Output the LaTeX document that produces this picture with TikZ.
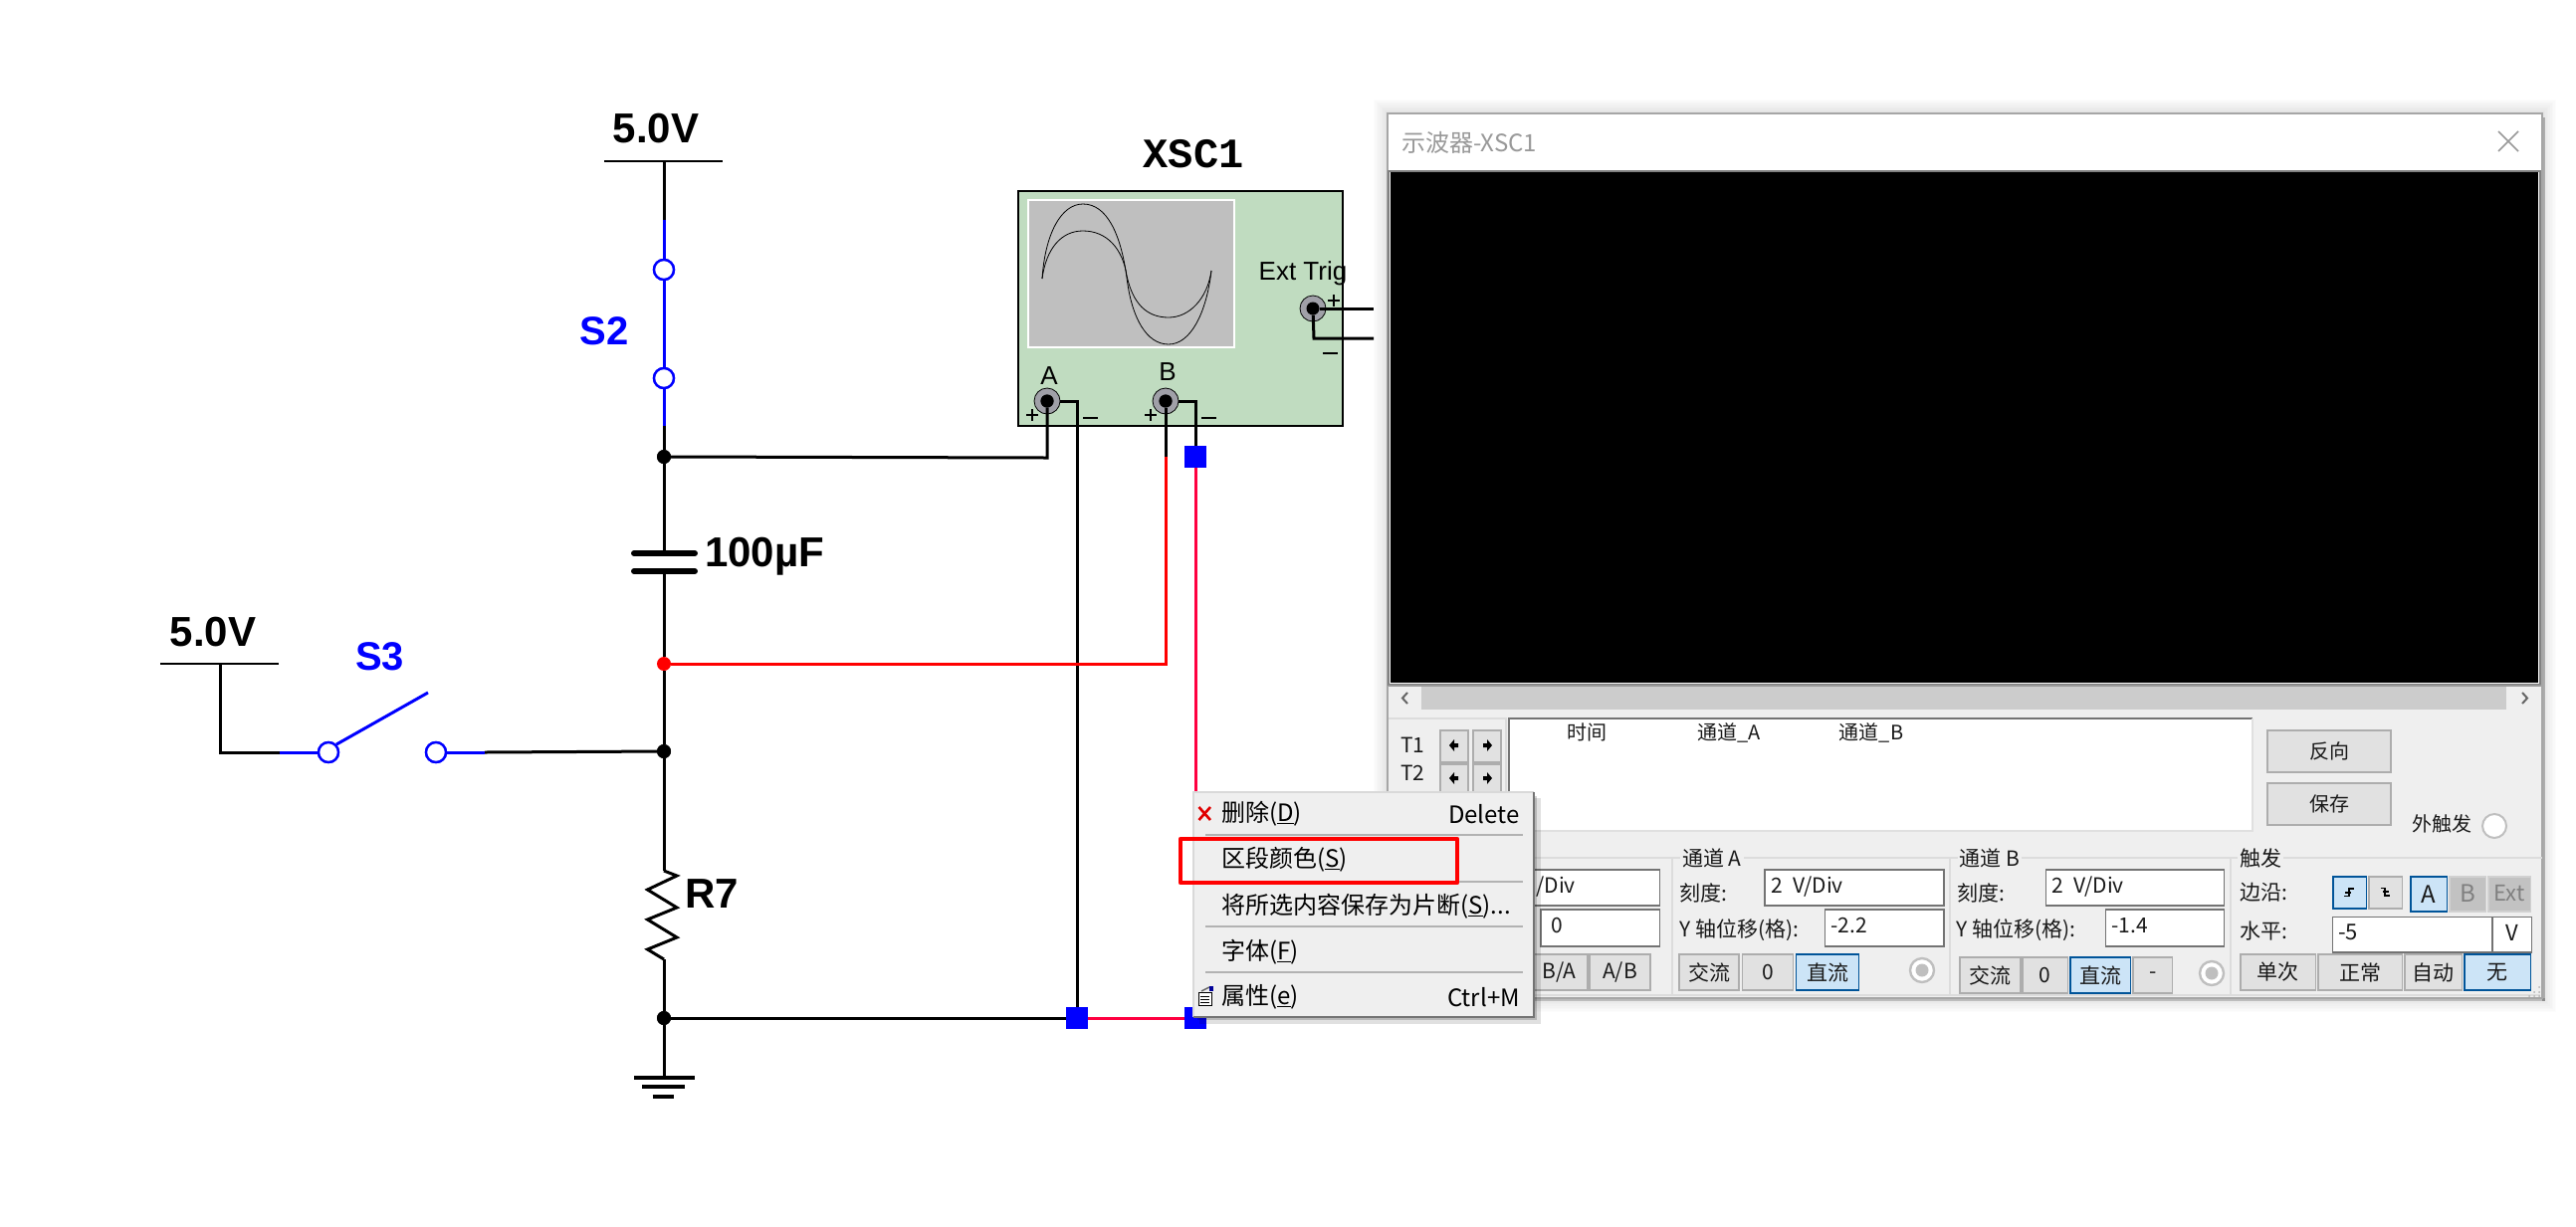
\documentclass[tikz,border=0pt]{standalone}
\usepackage{fontspec}
\setmainfont{Liberation Sans}
\newfontfamily\cjk{Noto Sans CJK SC}
\newfontfamily\cour{Liberation Mono}
\newcommand\fs[1]{\fontsize{#1}{#1}\selectfont}
\definecolor{panelc}{HTML}{EFEFEF}
\definecolor{btnc}{HTML}{E1E1E1}
\definecolor{btnl}{HTML}{ADADAD}
\definecolor{selc}{HTML}{CCE4F7}
\definecolor{sell}{HTML}{005499}
\definecolor{framec}{HTML}{DCDCDC}
\definecolor{segred}{HTML}{FF0040}
\definecolor{scopeg}{HTML}{C0DCC0}
\definecolor{pinc}{HTML}{A0A0A8}
\tikzset{
 wire/.style={line width=3pt,black},
 bluewire/.style={line width=3pt,blue},
 redwire/.style={line width=3pt,red},
 segwire/.style={line width=3pt,segred},
 railline/.style={line width=1.4pt,black},
 contact/.style={circle,draw=blue,fill=white,line width=2.4pt,minimum size=20pt,inner sep=0pt},
 dotb/.style={circle,fill=black,minimum size=14pt,inner sep=0pt},
 dotr/.style={circle,fill=red,minimum size=14pt,inner sep=0pt},
 pinout/.style={circle,draw=black,line width=.8pt,fill=pinc,minimum size=26pt,inner sep=0pt},
 pinin/.style={circle,fill=black,minimum size=13pt,inner sep=0pt},
 handle/.style={rectangle,fill=blue,minimum size=22pt,inner sep=0pt},
 ckt/.style={font=\bfseries\fs{42},inner sep=0pt},
 swlab/.style={font=\bfseries\fs{40},text=blue,inner sep=0pt},
 pinlab/.style={font=\fs{26},inner sep=0pt},
 ui/.style={font=\cjk\fs{21},inner sep=0pt,text=black!90},
 uil/.style={ui,anchor=west},
 menut/.style={font=\cjk\fs{24},inner sep=0pt,anchor=west,text=black},
 menur/.style={font=\cjk\fs{24},inner sep=0pt,anchor=east,text=black},
 btnf/.style={fill=btnc,draw=btnl,line width=1.4pt},
 selb/.style={fill=selc,draw=sell,line width=1.4pt},
 disb/.style={fill=black!24,draw=black!18,line width=1.4pt},
 ebox/.style={fill=white,draw=black!55,line width=1.4pt},
 grp/.style={draw=framec,line width=1.4pt},
 sep/.style={draw=black!30,line width=1.2pt},
 grplab/.style={ui,fill=panelc,inner sep=2pt},
}
\newcommand\btn[7]{\path[#6] (#2,#3) rectangle (#4,#5); \node[ui] (#1) at ({(#2+#4)/2},{(#3+#5)/2}) {#7};}
\newcommand\arrL[2]{\fill[black,shift={(#1,#2)}] (-5,0)--(0,-6)--(0,-2)--(4,-2)--(4,2)--(0,2)--(0,6)--cycle;}
\newcommand\arrR[2]{\fill[black,shift={(#1,#2)}] (5,0)--(0,-6)--(0,-2)--(-4,-2)--(-4,2)--(0,2)--(0,6)--cycle;}
\begin{document}
\begin{tikzpicture}[x=1pt,y=-1pt]
\fill[white] (0,0) rectangle (2588,1232);
\useasboundingbox (0,0) rectangle (2588,1232);

% ---- scope window
\foreach \i in {1,...,9}{\fill[black,opacity=.012] (1394-\i*1.6,114-\i*1.6) rectangle (2554+\i*1.6,1003+\i*1.6);}
\fill[black,opacity=.25] (2554,118) rectangle (2557,1006);
\fill[black,opacity=.18] (1398,1003) rectangle (2557,1006);
\path[fill=panelc,draw=black!35,line width=1.4pt] (1394,114) rectangle (2554,1003);
\fill[white] (1395,115) rectangle (2553,171);
\node[font=\cjk\fs{24},text=black!40,inner sep=0pt,anchor=west] (wintitle) at (1408,143) {示波器-XSC1};
\draw[black!40,line width=1.6pt] (2510,132) -- (2530,152) (2530,132) -- (2510,152);
\path[fill=white,draw=black!50,line width=2pt] (1395,172) rectangle (2552,688);
\fill[black] (1397,173) rectangle (2550,686);
\draw[black!40,line width=1.2pt] (1395,689) -- (2553,689);
\fill[black!20] (1428,690) rectangle (2517.5,713);
\draw[black!60,line width=2pt] (1414,696) -- (1409,701.5) -- (1414,707);
\draw[black!60,line width=2pt] (2534,696) -- (2539,701.5) -- (2534,707);
% cursor panel
\draw[grp] (1395,722) -- (1513,722) -- (1513,835);
\node[uil] (t1) at (1407,749) {T1};
\node[uil] (t2) at (1407,777) {T2};
\path[btnf] (1447,734) rectangle (1475,766);
\path[btnf] (1480,734) rectangle (1508,766);
\path[btnf] (1447,768) rectangle (1475,800);
\path[btnf] (1480,768) rectangle (1508,800);
\arrL{1461}{749}\arrR{1494}{749}\arrL{1461}{782}\arrR{1494}{782}
\path[fill=white] (1516,722) rectangle (2263,835);
\draw[black!55,line width=1.6pt] (1516,835) -- (1516,722) -- (2263,722);
\draw[black!12,line width=1.4pt] (2263,722) -- (2263,835) -- (1516,835);
\node[ui] (h1) at (1594,736) {\fs{20}时间};
\node[ui] (h2) at (1737,736) {\fs{20}通道\_A};
\node[ui] (h3) at (1880,736) {\fs{20}通道\_B};
\btn{rev}{2278}{734}{2402}{776}{btnf}{\fs{20}反向}
\btn{sav}{2278}{787}{2402}{829}{btnf}{\fs{20}保存}
\node[ui] (ext) at (2453,828) {\fs{20}外触发};
\node[circle,draw=black!25,fill=white,line width=2pt,minimum size=24pt,inner sep=0pt] (extr) at (2506,830) {};
% groups
\draw[grp] (1513,862) -- (2554,862) (1680,862) -- (1680,1000) (1959,862) -- (1959,1000) (2241,862) -- (2241,1000) (1513,1000) -- (2552,1000);
\node[grplab] (ga) at (1720,862) {通道 A};
\node[grplab] (gb) at (1999,862) {通道 B};
\node[grplab] (gt) at (2271,862) {触发};
% time base
\path[ebox] (1480,874) rectangle (1667.5,910);
\node[ui,anchor=east] (tdiv) at (1583,891) {s/Div};
\path[ebox] (1548,914) rectangle (1667.5,951);
\node[uil] (tpos) at (1558,930) {0};
\btn{ba}{1500}{959}{1595}{995}{btnf}{}
\node[ui] (bat) at (1566.5,977) {B/A};
\btn{ab}{1597}{959}{1658}{995}{btnf}{A/B}
% channel A
\node[uil] (kda) at (1687,897) {刻度:};
\path[ebox] (1773,874) rectangle (1953,910);
\node[uil] (va) at (1779,891) {2\enspace V/Div};
\node[uil] (ya) at (1687,935) {Y 轴位移(格):};
\path[ebox] (1833.5,914) rectangle (1953,951);
\node[uil] (pa) at (1839,930) {-2.2};
\btn{aac}{1687}{959}{1747}{995}{btnf}{交流}
\btn{a0}{1750.5}{959}{1801.5}{995}{btnf}{0}
\btn{adc}{1804.5}{959}{1867.5}{995}{selb}{直流}
\node[circle,draw=black!25,fill=white,line width=2.4pt,minimum size=24pt,inner sep=0pt] (ra) at (1931,975) {};
\fill[black!25] (ra.center) circle (6.5);
% channel B
\node[uil] (kdb) at (1966,897) {刻度:};
\path[ebox] (2055.5,874) rectangle (2234.5,910);
\node[uil] (vb) at (2061,891) {2\enspace V/Div};
\node[uil] (yb) at (1965,935) {Y 轴位移(格):};
\path[ebox] (2115.5,914) rectangle (2234.5,951);
\node[uil] (pb) at (2121,930) {-1.4};
\btn{bac}{1969}{962}{2030}{998}{btnf}{交流}
\btn{b0}{2032}{962}{2077.5}{998}{btnf}{0}
\btn{bdc}{2080}{962}{2140.5}{998}{selb}{直流}
\btn{bm}{2143}{962}{2182.5}{998}{btnf}{-}
\node[circle,draw=black!25,fill=white,line width=2.4pt,minimum size=24pt,inner sep=0pt] (rb) at (2222,978) {};
\fill[black!25] (rb.center) circle (6.5);
% trigger
\node[uil] (bian) at (2250.5,897) {边沿:};
\btn{er}{2344}{881}{2377.5}{913}{selb}{}
\btn{ef}{2380}{881}{2413.5}{913}{btnf}{}
\draw[black,line width=1.3pt] (2355,900.5) -- (2360,900.5) -- (2360,893) -- (2365,893) (2356,897) -- (2362,897);
\draw[black,line width=1.3pt] (2392,892.5) -- (2396,892.5) -- (2396,900) -- (2401,900) (2394,896) -- (2400,896);
\btn{ta}{2422}{881}{2458.5}{916}{selb}{\fs{24}A}
\path[disb] (2461,881) rectangle (2497.5,916);
\node[ui,text=black!50] (tb) at (2479,898) {\fs{24}B};
\path[disb] (2500,881) rectangle (2542.5,916);
\node[ui,text=black!50] (te) at (2521,898) {\fs{22}Ext};
\node[uil] (shui) at (2250.5,936) {水平:};
\path[ebox] (2343.5,921.5) rectangle (2504,957);
\path[ebox] (2504,921.5) rectangle (2543.5,957);
\node[uil] (lv) at (2349,937) {\fs{22}-5};
\node[ui] (lu) at (2524,937) {\fs{22}V};
\btn{sg}{2251}{959}{2326.5}{995}{btnf}{单次}
\btn{nm}{2329}{959}{2413.5}{995}{btnf}{正常}
\btn{au}{2416}{959}{2473.5}{995}{btnf}{自动}
\btn{no}{2476}{959}{2542.5}{995}{selb}{无}
\foreach \p in {(2551,992),(2551,997),(2546,997),(2551,1001),(2546,1001),(2541,1001)}{\fill[black!30] \p circle (1);}

% ---- circuit
\coordinate (r1l) at (607,162); \coordinate (r1r) at (726,162); \coordinate (r1) at (667,162);
\coordinate (r2l) at (161,667); \coordinate (r2r) at (280,667); \coordinate (r2) at (221,667);
\node[ckt] (v1) at (659,129) {5.0V};
\node[ckt] (v2) at (214,635) {5.0V};
\draw[railline] (r1l) -- (r1r);
\draw[railline] (r2l) -- (r2r);
\node[contact] (s2a) at (667,271) {};
\node[contact] (s2b) at (667,380) {};
\node[contact] (s3a) at (330,756) {};
\node[contact] (s3b) at (438,756) {};
\coordinate (s2t) at (667,221); \coordinate (s2e) at (667,428);
\coordinate (s3l) at (281,756); \coordinate (s3r) at (487,756); \coordinate (arm) at (430,696);
\coordinate (corner) at (221,756);
\coordinate (cap1) at (667,556); \coordinate (cap2) at (667,574);
\coordinate (res1) at (667,875); \coordinate (res2) at (667,964);
\coordinate (gnd) at (667,1083);
\node[dotb] (j1) at (667,459) {};
\node[dotr] (j2) at (667,667) {};
\node[dotb] (j3) at (667,755) {};
\node[dotb] (j4) at (667,1023) {};
\node[swlab] (s2) at (607,333) {S2};
\node[swlab] (s3) at (381.5,660) {S3};
\node[ckt,anchor=west] (c1) at (708,559) {100µF};
\node[ckt,anchor=west] (r7) at (688,898) {R7};
% vertical chain
\draw[wire] (r1) -- (s2t);
\draw[bluewire] (s2t) -- (s2a);
\draw[bluewire] (s2a) -- (s2b);
\draw[bluewire] (s2b) -- (s2e);
\draw[wire] (s2e) -- (j1);
\draw[wire] (j1) -- (cap1);
\draw[wire] (cap2) -- (j2);
\draw[wire] (j2) -- (j3);
\draw[wire] (j3) -- (res1);
\draw[wire,line join=miter] (res1) -- (680,880) -- (650.5,894) -- (680,912) -- (650.5,924) -- (680,942) -- (650.5,954) -- (res2);
\draw[wire] (res2) -- (j4);
\draw[wire] (j4) -- (gnd);
\draw[line width=6pt,line cap=round] (637,556) -- (698,556);
\draw[line width=6pt,line cap=round] (637,574) -- (698,574);
\draw[line width=3.4pt] (637,1083) -- (697.5,1083);
\draw[line width=3.4pt] (645,1092) -- (687.5,1092);
\draw[line width=3.4pt] (655.5,1102) -- (677,1102);
% switch S3
\draw[wire] (r2) -- (corner) -- (s3l);
\draw[bluewire] (s3l) -- (s3a);
\draw[bluewire] (s3a.north east) -- (arm);
\draw[bluewire] (s3b) -- (s3r);
\draw[wire] (s3r) -- (j3);
\node[contact] at (s3a) {};
\node[contact] at (s3b) {};
\node[contact] at (s2a) {};
\node[contact] at (s2b) {};

% ---- scope symbol
\node[ckt,font=\cour\bfseries\fs{42}] (xsc) at (1199,155) {XSC1};
\path[fill=scopeg,draw=black,line width=1.4pt] (1023,192) rectangle (1349,428);
\path[fill=black!25,draw=white,line width=1.2pt] (1033,201) rectangle (1240,349);
\draw[line width=.8pt] (1047,280) .. controls (1050,235) and (1066,205) .. (1088,205) .. controls (1112,205) and (1126,235) .. (1132,279) .. controls (1137,320) and (1152,346) .. (1174,346) .. controls (1196,346) and (1212,315) .. (1217,272);
\draw[line width=.8pt] (1047,280) .. controls (1051,250) and (1066,232) .. (1088,232) .. controls (1112,232) and (1128,250) .. (1132,277) .. controls (1138,305) and (1152,319) .. (1174,319) .. controls (1195,319) and (1213,300) .. (1217,272);
\node[pinlab] (extt) at (1309,275) {Ext Trig};
\node[pinlab] (la) at (1054,378) {A};
\node[pinlab] (lb) at (1173,374) {B};
\node[pinout] (pa0) at (1052,403) {};
\node[pinout] (pb0) at (1171,403) {};
\node[pinout] (pe0) at (1319,310) {};
\node[pinin] (pa1) at (1052,403) {};
\node[pinin] (pb1) at (1171,403) {};
\node[pinin] (pe1) at (1319,310) {};
\foreach \x/\y in {1037/417,1156/417,1340/302}{\draw[line width=1.6pt] (\x-6,\y) -- (\x+6,\y) (\x,\y-6) -- (\x,\y+6);}
\draw[line width=1.6pt] (1088,420) -- (1103,420) (1207,420) -- (1222,420) (1329,355) -- (1344,355);
% scope wires
\coordinate (ea) at (1380,310); \coordinate (eb) at (1380,340); \coordinate (ec) at (1320,340);
\draw[wire] (pe1) -- (ea);
\draw[wire] (pe1) -- (ec) -- (eb);
\coordinate (abend) at (1052,460);
\draw[wire] (j1) -- (abend) -- (pa1);
\coordinate (aneg) at (1082,403);
\node[handle] (h4) at (1082,1023) {};
\node[handle] (h5) at (1201,1023) {};
\node[handle] (h6) at (1201,459) {};
\draw[wire] (pa0.east) -- (aneg) -- (h4);
\draw[wire] (j4) -- (h4);
\draw[segwire] (h4) -- (h5);
\draw[segwire] (h6) -- (h5);
\coordinate (bneg) at (1201,403);
\draw[wire] (pb0.east) -- (bneg) -- (h6);
\coordinate (bend) at (1171,459); \coordinate (bred) at (1171,667);
\draw[wire] (pb1) -- (bend);
\draw[redwire] (j2) -- (bred) -- (bend);
\node[pinin] at (pa1) {};
\node[pinin] at (pb1) {};
\node[handle] at (h4) {};
\node[handle] at (h6) {};
\node[dotb] at (j1) {};
\node[dotb] at (j3) {};
\node[dotb] at (j4) {};

% ---- context menu
\fill[black,opacity=.12] (1205,802) rectangle (1548,1029);
\fill[black,opacity=.18] (1203,800) rectangle (1544,1025);
\path[fill=panelc] (1199,796) rectangle (1541,1022);
\draw[black!15,line width=1.2pt] (1199,1022) -- (1199,796) -- (1541,796);
\draw[black!55,line width=1.6pt] (1541,796) -- (1541,1022) -- (1199,1022);
\draw[sep] (1211,839) -- (1530,839);
\draw[sep] (1211,886) -- (1530,886);
\draw[sep] (1211,931) -- (1530,931);
\draw[sep] (1211,977) -- (1530,977);
\draw[line width=2.6pt,color=red!88!black] (1204.5,811) -- (1216,824) (1216,811) -- (1204.5,824);
\node[menut] (m1) at (1227,818) {删除(\underline{D})};
\node[menur] (m1k) at (1527,818) {Delete};
\node[menut] (m2) at (1227,864) {区段颜色(\underline{S})};
\node[menut] (m3) at (1227,911) {将所选内容保存为片断(\underline{S})...};
\node[menut] (m4) at (1227,957) {字体(\underline{F})};
\node[menut] (m5) at (1227,1002) {属性(\underline{e})};
\node[menur] (m5k) at (1527,1002) {Ctrl+M};
\path[fill=white,draw=black,line width=1pt] (1204,997) rectangle (1217,1010);
\draw[line width=.8pt] (1206,1001) -- (1215,1001) (1206,1004) -- (1215,1004) (1206,1007) -- (1215,1007);
\draw[line width=1.4pt,black!60] (1207,996) -- (1215,992);
\fill[blue!60!black] (1215,991) rectangle (1219,996);
\draw[red,line width=4.5pt,line join=round] (1186,843) rectangle (1464,887);
\end{tikzpicture}
\end{document}
